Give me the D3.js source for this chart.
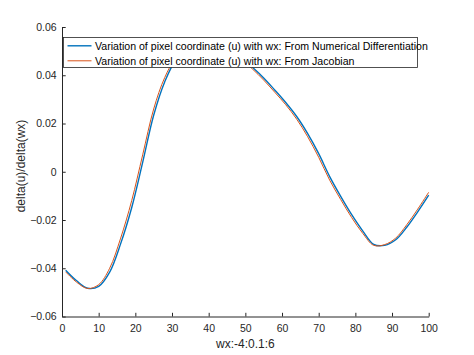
<!DOCTYPE html>
<html>
<head>
<meta charset="utf-8">
<script src="https://cdn.jsdelivr.net/npm/d3@7"></script>
<style>
  body { margin: 0; background: #fff; }
  text { font-family: "Liberation Sans", Arial, sans-serif; }
</style>
</head>
<body>
<div id="chart"></div>
<script>
// 数据 (读自图片, 每隔3个点)
var xIndex = [1,4,7,10,13,16,19,22,25,28,31,34,37,40,43,46,49,52,55,58,61,64,67,70,73,76,79,82,85,88,91,94,97,100];
var jacobianVals = [-0.0415,-0.0458,-0.0484,-0.0468,-0.0400,-0.0275,-0.0120,0.0070,0.0260,0.0390,0.0470,0.0500,0.0520,0.0525,0.0515,0.0495,0.0465,0.0425,0.0380,0.0330,0.0278,0.0218,0.0145,0.0060,-0.0035,-0.0115,-0.0190,-0.0255,-0.0305,-0.0302,-0.0275,-0.0220,-0.0155,-0.0085];
var numericalVals = [-0.0408,-0.0452,-0.0483,-0.0475,-0.0416,-0.0298,-0.0149,0.0039,0.0234,0.0372,0.0461,0.0496,0.0518,0.0525,0.0518,0.0499,0.0471,0.0432,0.0389,0.0339,0.0287,0.0229,0.0158,0.0075,-0.0020,-0.0102,-0.0178,-0.0245,-0.0301,-0.0305,-0.0282,-0.0230,-0.0166,-0.0097];
var xTicks = [0,10,20,30,40,50,60,70,80,90,100];
var yTicks = [-0.06,-0.04,-0.02,0,0.02,0.04,0.06];
var seriesNames = ["Variation of pixel coordinate (u) with wx: From Numerical Differentiation",
                   "Variation of pixel coordinate (u) with wx: From Jacobian"];
var seriesColors = ["#0072BD", "#D95319"];
var seriesWidths = [1.4, 1];

var W = 474, H = 355;
var margin = {top: 27, right: 45.3, bottom: 38.5, left: 62};
var width = W - margin.left - margin.right;
var height = H - margin.top - margin.bottom;

var svg = d3.select("#chart").append("svg")
    .attr("width", W)
    .attr("height", H);
svg.append("rect").attr("width", W).attr("height", H).attr("fill", "#fff");

var plot = svg.append("g")
    .attr("transform", `translate(${margin.left}, ${margin.top})`);

var xScale = d3.scaleLinear().domain([0, 100]).range([0, width]);
var yScale = d3.scaleLinear().domain([-0.06, 0.06]).range([height, 0]);

// 曲线
var line = d3.line()
    .x(d => xScale(d[0]))
    .y(d => yScale(d[1]))
    .curve(d3.curveCatmullRom);

[numericalVals, jacobianVals].forEach(function(vals, i){
    plot.append("path")
        .datum(xIndex.map((x, j) => [x, vals[j]]))
        .attr("fill", "none")
        .attr("stroke", seriesColors[i])
        .attr("stroke-width", seriesWidths[i])
        .attr("d", line);
});

// 坐标轴
var xAxis = d3.axisBottom(xScale).tickValues(xTicks).tickFormat(d3.format("d"))
    .tickSizeInner(-3.7).tickSizeOuter(0).tickPadding(8);
var yAxis = d3.axisLeft(yScale).tickValues(yTicks).tickFormat(d => d === 0 ? "0" : d3.format(".2f")(d))
    .tickSizeInner(-3.7).tickSizeOuter(0).tickPadding(5.3);

var gx = plot.append("g")
    .attr("transform", `translate(0, ${height})`)
    .call(xAxis);
var gy = plot.append("g").call(yAxis);

[gx, gy].forEach(function(g){
    g.select(".domain").attr("stroke", "#262626");
    g.selectAll(".tick line").attr("stroke", "#262626");
    g.selectAll(".tick text")
        .attr("fill", "#262626")
        .style("font-size", "10.5px")
        .style("font-family", "'Liberation Sans', Arial, sans-serif");
});

// 轴标签
svg.append("text")
    .attr("x", margin.left + width / 2)
    .attr("y", 348)
    .attr("text-anchor", "middle")
    .attr("fill", "#262626")
    .style("font-size", "12px")
    .text("wx:-4:0.1:6");

svg.append("text")
    .attr("transform", "translate(25, 166) rotate(-90)")
    .attr("text-anchor", "middle")
    .attr("fill", "#262626")
    .style("font-size", "12px")
    .text("delta(u)/delta(wx)");

// 图例
var legend = svg.append("g").attr("transform", "translate(63.5, 37.5)");
legend.append("rect")
    .attr("width", 354)
    .attr("height", 30)
    .attr("fill", "#fff")
    .attr("stroke", "#262626")
    .attr("stroke-width", 0.8);

seriesNames.forEach(function(name, i){
    var cy = 8.3 + i * 15;
    legend.append("line")
        .attr("x1", 4).attr("x2", 28)
        .attr("y1", cy).attr("y2", cy)
        .attr("stroke", seriesColors[i])
        .attr("stroke-width", seriesWidths[i]);
    legend.append("text")
        .attr("x", 31.5)
        .attr("y", cy)
        .attr("dy", "0.35em")
        .attr("fill", "#000")
        .style("font-size", "10.6px")
        .text(name);
});
</script>
</body>
</html>
